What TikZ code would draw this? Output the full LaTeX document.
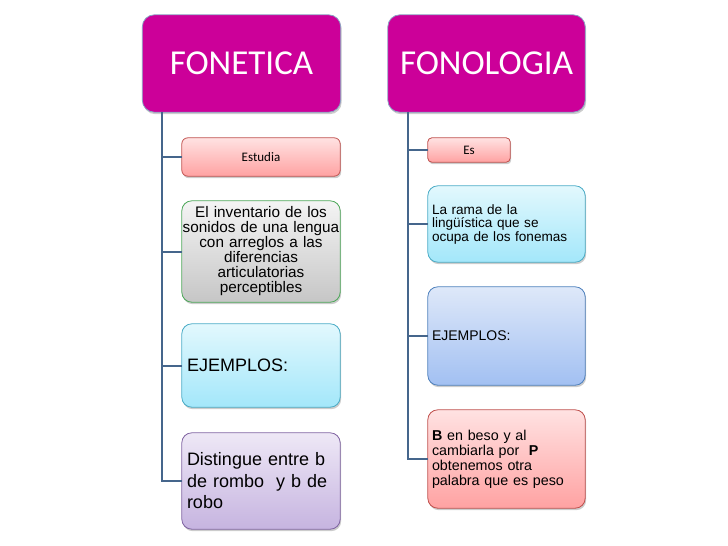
\documentclass[tikz,border=0pt]{standalone}
\usepackage{fontspec}
\setmainfont{Liberation Sans}
\newfontfamily\carlito{Carlito}
\usetikzlibrary{backgrounds}
\definecolor{hmag}{HTML}{CC0099}
\definecolor{hbord}{HTML}{8AA3C4}
\definecolor{conncol}{HTML}{45668C}
\definecolor{redtop}{HTML}{FFE2E2}
\definecolor{redbot}{HTML}{FFA2A2}
\definecolor{redbord}{HTML}{C0504D}
\definecolor{gretop}{HTML}{F4F4F4}
\definecolor{grebot}{HTML}{C6C6C6}
\definecolor{grebord}{HTML}{4EA85A}
\definecolor{cyatop}{HTML}{E2F8FD}
\definecolor{cyabot}{HTML}{A3E7FA}
\definecolor{cyabord}{HTML}{4BACC6}
\definecolor{purtop}{HTML}{EEE8F6}
\definecolor{purbot}{HTML}{C6B4E0}
\definecolor{purbord}{HTML}{8064A2}
\definecolor{blutop}{HTML}{DEE8F9}
\definecolor{blubot}{HTML}{A2C0F2}
\definecolor{blubord}{HTML}{4F81BD}
\tikzset{
  shad/.style={preaction={fill=black,fill opacity=0.2,draw=none,transform canvas={xshift=1pt,yshift=-2pt}}},
  header/.style={rectangle,text=white,font=\carlito\fontsize{35}{40}\selectfont,inner sep=0pt},
  headshape/.style={draw=hbord,line width=0.8pt,fill=hmag,shad},
  box/.style={rectangle,inner xsep=5pt,inner ysep=0pt},
  boxshape/.style={line width=0.8pt,shad},
  redbox/.style={boxshape,draw=redbord,top color=redtop,bottom color=redbot},
  grebox/.style={boxshape,draw=grebord,top color=gretop,bottom color=grebot},
  cyabox/.style={boxshape,draw=cyabord,top color=cyatop,bottom color=cyabot},
  purbox/.style={boxshape,draw=purbord,top color=purtop,bottom color=purbot},
  blubox/.style={boxshape,draw=blubord,top color=blutop,bottom color=blubot},
  conn/.style={draw=conncol,line width=2pt},
}
\newcommand\rbox[3]{%
  \path[#3] ([xshift=#2]#1.north west) -- ([xshift=-#2]#1.north east)
    arc[start angle=90,end angle=0,radius=#2] -- ([yshift=#2]#1.south east)
    arc[start angle=0,end angle=-90,radius=#2] -- ([xshift=#2]#1.south west)
    arc[start angle=270,end angle=180,radius=#2] -- ([yshift=-#2]#1.north west)
    arc[start angle=180,end angle=90,radius=#2] -- cycle;}
\begin{document}
\begin{tikzpicture}[x=1pt,y=1pt]
\useasboundingbox (0,0) rectangle (728,-546);
% headers
\node[header,minimum width=198pt,minimum height=97pt] (h1) at (241.5,-63.5) {FONETICA};
\node[header,minimum width=197pt,minimum height=97pt] (h2) at (486.5,-63.5) {FONOLOGIA};
% left column
\node[box,minimum width=158pt,minimum height=38pt,font=\carlito\fontsize{13}{15}\selectfont] (a1) at (261,-157) {Estudia};
\node[box,minimum width=158pt,minimum height=101pt,inner xsep=0pt,text width=158pt,align=center,font=\fontsize{15.3}{15}\selectfont] (a2) at (261,-251.5) {El inventario de los\\sonidos de una lengua\\con arreglos a las\\diferencias\\articulatorias\\perceptibles};
\node[box,minimum width=158pt,minimum height=83pt,text width=148pt,align=left,font=\fontsize{18}{21.5}\selectfont] (a3) at (261,-365.5) {EJEMPLOS:};
\node[box,minimum width=158pt,minimum height=96pt,text width=148pt,align=left,font=\fontsize{18}{21.5}\selectfont] (a4) at (261,-481) {Distingue entre b\\de rombo\ \ y b de\\robo};
% right column
\node[box,minimum width=82pt,minimum height=24pt,font=\carlito\fontsize{13}{15}\selectfont] (b1) at (469,-150) {Es};
\node[box,minimum width=157pt,minimum height=76pt,text width=149pt,inner xsep=4pt,align=left,font=\fontsize{13.6}{13.5}\selectfont] (b2) at (506.5,-224) {La rama de la\\lingüística que se\\ocupa de los fonemas};
\node[box,minimum width=157pt,minimum height=98pt,text width=149pt,inner xsep=4pt,align=left,font=\fontsize{14}{16}\selectfont] (b3) at (506.5,-336) {EJEMPLOS:};
\node[box,minimum width=157pt,minimum height=98pt,text width=149pt,inner xsep=4pt,align=left,font=\fontsize{14.3}{15}\selectfont] (b4) at (506.5,-459) {\textbf{B} en beso y al\\cambiarla por\ \ \textbf{P}\\obtenemos otra\\palabra que es peso};
\begin{pgfonlayer}{background}
\rbox{h1}{12pt}{headshape}
\rbox{h2}{12pt}{headshape}
\rbox{a1}{6pt}{redbox}
\rbox{a2}{10pt}{grebox}
\rbox{a3}{10pt}{cyabox}
\rbox{a4}{10pt}{purbox}
\rbox{b1}{4pt}{redbox}
\rbox{b2}{10pt}{cyabox}
\rbox{b3}{10pt}{blubox}
\rbox{b4}{10pt}{redbox}
% connectors
\coordinate (t1) at (162,-112);
\coordinate (t2) at (408,-112);
\draw[conn] (t1) |- (a4.west);
\draw[conn] (t1 |- a1.west) -- (a1.west);
\draw[conn] (t1 |- a2.west) -- (a2.west);
\draw[conn] (t1 |- a3.west) -- (a3.west);
\draw[conn] (t2) |- (b4.west);
\draw[conn] (t2 |- b1.west) -- (b1.west);
\draw[conn] (t2 |- b2.west) -- (b2.west);
\draw[conn] (t2 |- b3.west) -- (b3.west);
\end{pgfonlayer}
\end{tikzpicture}
\end{document}
